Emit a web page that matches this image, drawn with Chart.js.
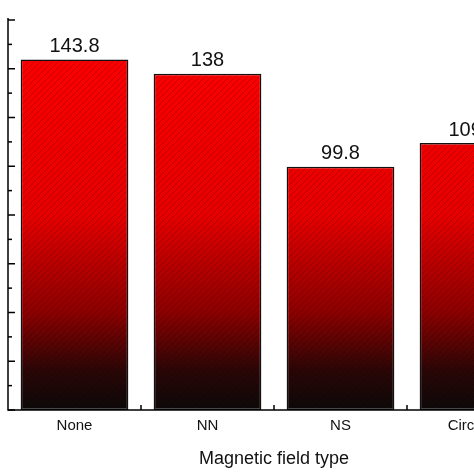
<!DOCTYPE html>
<html><head><meta charset="utf-8">
<script src="https://cdn.jsdelivr.net/npm/chart.js@4/dist/chart.umd.min.js"></script>
<style>html,body{margin:0;padding:0;overflow:hidden;background:#fff;width:474px;height:474px}</style>
</head><body>
<canvas id="c" width="560" height="474" style="width:560px;height:474px"></canvas>
<script>
const categories = ['None', 'NN', 'NS', 'Circular'];
const values = [143.8, 138, 99.8, 109.5];
const valueLabels = ['143.8', '138', '99.8', '109.5'];
const yMin = 0, yMax = 160, yMinorStep = 10;

function makeFill(ctx, area) {
  const cv = document.createElement('canvas');
  cv.width = 560; cv.height = 474;
  const g = cv.getContext('2d');
  const gr = g.createLinearGradient(0, area.top, 0, area.bottom);
  gr.addColorStop(0, '#ff0000');
  gr.addColorStop(0.5, '#e60000');
  gr.addColorStop(0.75, '#8c0000');
  gr.addColorStop(0.9, '#2a0606');
  gr.addColorStop(1, '#0d0909');
  g.fillStyle = gr; g.fillRect(0, 0, 560, 474);
  g.strokeStyle = 'rgba(0,0,0,0.18)'; g.lineWidth = 1;
  for (let k = -600; k < 1200; k += 6) { g.beginPath(); g.moveTo(k, 474); g.lineTo(k + 474, 0); g.stroke(); }
  return ctx.createPattern(cv, 'no-repeat');
}

const deco = {
  id: 'deco',
  afterDatasetsDraw(chart) {
    const ctx = chart.ctx, y = chart.scales.y, x = chart.scales.x, a = chart.chartArea;
    ctx.save();
    ctx.strokeStyle = '#000'; ctx.lineWidth = 1.5;
    ctx.beginPath(); ctx.moveTo(a.left, a.top - 2); ctx.lineTo(a.left, a.bottom); ctx.lineTo(560, a.bottom); ctx.stroke();
    for (let v = yMin; v <= yMax; v += yMinorStep) {
      const py = y.getPixelForValue(v), len = (v % 20 === 0) ? 7 : 4;
      ctx.beginPath(); ctx.moveTo(a.left, py); ctx.lineTo(a.left + len, py); ctx.stroke();
    }
    for (let i = 0; i < categories.length - 1; i++) {
      const px = (x.getPixelForValue(i) + x.getPixelForValue(i + 1)) / 2;
      ctx.beginPath(); ctx.moveTo(px, a.bottom); ctx.lineTo(px, a.bottom - 5); ctx.stroke();
    }
    ctx.fillStyle = '#111'; ctx.font = '20px Arial, "Liberation Sans"'; ctx.textAlign = 'center'; ctx.textBaseline = 'bottom';
    chart.getDatasetMeta(0).data.forEach((b, i) => ctx.fillText(valueLabels[i], b.x, b.y - 3));
    ctx.restore();
  }
};

const chart = new Chart(document.getElementById('c'), {
  type: 'bar',
  data: { labels: categories, datasets: [{
    data: values,
    backgroundColor: (c) => { const a = c.chart.chartArea; return a ? makeFill(c.chart.ctx, a) : '#f00'; },
    borderColor: '#111', borderWidth: 1.5, borderSkipped: false,
    categoryPercentage: 1, barPercentage: 0.81
  }]},
  options: {
    responsive: false, animation: false, devicePixelRatio: 1,
    layout: { padding: { left: 8, top: 20, right: 20, bottom: 0 } },
    plugins: { legend: { display: false }, tooltip: { enabled: false } },
    scales: {
      x: { grid: { display: false, drawTicks: false }, border: { display: false },
        ticks: { color: '#111', font: { size: 15, family: 'Arial, "Liberation Sans"' }, padding: 7 },
        title: { display: true, text: 'Magnetic field type', color: '#111', font: { size: 18, family: 'Arial, "Liberation Sans"' }, padding: { top: 10 } },
        afterFit: s => { s.height = 64; } },
      y: { min: yMin, max: yMax, display: true, grid: { display: false, drawTicks: false }, border: { display: false },
        ticks: { display: false }, afterFit: s => { s.width = 0; } }
    }
  },
  plugins: [deco]
});
</script></body></html>
